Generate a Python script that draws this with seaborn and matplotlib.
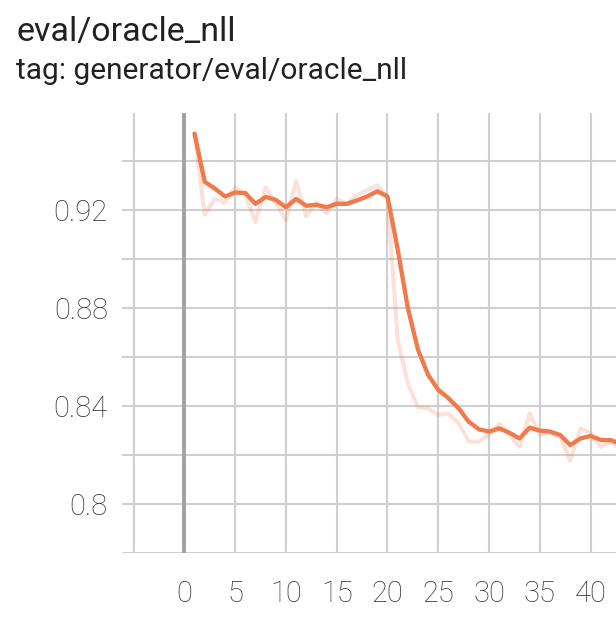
import numpy as np
import pandas as pd
import matplotlib
matplotlib.use('Agg')
import matplotlib.pyplot as plt
import seaborn as sns
from matplotlib.ticker import MultipleLocator, FixedLocator, FuncFormatter

# values
steps = list(range(1, 44))
raw_nll = [0.951, 0.918, 0.9245, 0.923, 0.929, 0.9262, 0.915, 0.929, 0.923, 0.9156,
           0.9316, 0.9173, 0.923, 0.9186, 0.9244, 0.9224, 0.926, 0.928, 0.930, 0.925,
           0.867, 0.8493, 0.8395, 0.839, 0.8364, 0.837, 0.833, 0.8255, 0.8255, 0.8282,
           0.8327, 0.8282, 0.8234, 0.837, 0.8282, 0.829, 0.8275, 0.8177, 0.8309, 0.829,
           0.8234, 0.8255, 0.822]
smoothed_nll = [0.951, 0.9314, 0.9286, 0.9254, 0.927, 0.9268, 0.9224, 0.9252, 0.924, 0.921,
                0.9244, 0.9216, 0.922, 0.921, 0.9224, 0.9224, 0.9238, 0.9254, 0.9275, 0.9254,
                0.904, 0.880, 0.863, 0.8527, 0.8466, 0.8432, 0.8391, 0.8336, 0.8305, 0.8296,
                0.8309, 0.8291, 0.8268, 0.8312, 0.8300, 0.8296, 0.8282, 0.8241, 0.8268, 0.8278,
                0.8262, 0.8261, 0.8245]
x_ticks = [-5, 0, 5, 10, 15, 20, 25, 30, 35, 40, 45]
y_major = [0.80, 0.84, 0.88, 0.92]

title = "eval/oracle_nll"
subtitle = "tag: generator/eval/oracle_nll"

sns.set_style('white')
plt.rcParams['font.family'] = ['Roboto', 'DejaVu Sans']

df = pd.DataFrame({'step': steps, 'raw': raw_nll, 'smoothed': smoothed_nll})

line_color = '#f07a4c'
grid_color = '#cfcfcf'
label_color = '#30303a'

fig = plt.figure(figsize=(6.16, 6.24), dpi=100)
ax = fig.add_axes([121.7 / 616, 70.7 / 624, (616 - 121.7) / 616, (553.3 - 112.5) / 624])

sns.lineplot(data=df, x='step', y='raw', ax=ax, color=line_color, alpha=0.22,
             linewidth=2.9, zorder=3)
sns.lineplot(data=df, x='step', y='smoothed', ax=ax, color=line_color,
             linewidth=3.1, zorder=4)

# darker zero line like tensorboard draws
ax.axvline(0, color='#a0a0a0', linewidth=2.8, zorder=2)

ax.set_xlim(-6.17, 42.5)
ax.set_ylim(0.78, 0.9596)

ax.xaxis.set_major_locator(FixedLocator(x_ticks))
ax.set_xticklabels(['' if t < 0 else str(t) for t in x_ticks])
ax.yaxis.set_major_locator(FixedLocator(y_major))
ax.yaxis.set_minor_locator(MultipleLocator(0.02))
ax.yaxis.set_major_formatter(FuncFormatter(lambda v, p: f"{v:g}"))

ax.grid(True, which='both', axis='y', color=grid_color, linewidth=1.5, zorder=1)
ax.grid(True, which='major', axis='x', color=grid_color, linewidth=1.5, zorder=1)
ax.tick_params(axis='x', length=9.4, width=1.5, color=grid_color, pad=10,
               labelsize=21, labelcolor=label_color)
ax.tick_params(axis='y', which='both', length=0, pad=10, labelsize=21, labelcolor=label_color)
for lbl in ax.get_xticklabels() + ax.get_yticklabels():
    lbl.set_fontweight('light')

for side in ['top', 'right', 'bottom', 'left']:
    ax.spines[side].set_visible(False)
ax.set_xlabel('')
ax.set_ylabel('')

fig.text(0.026, 1 - 41 / 624, title, fontsize=24.5, color='#212121', va='baseline')
fig.text(0.026, 1 - 79 / 624, subtitle, fontsize=21.5, color='#212121', va='baseline')

fig.savefig('out.png', dpi=100)
